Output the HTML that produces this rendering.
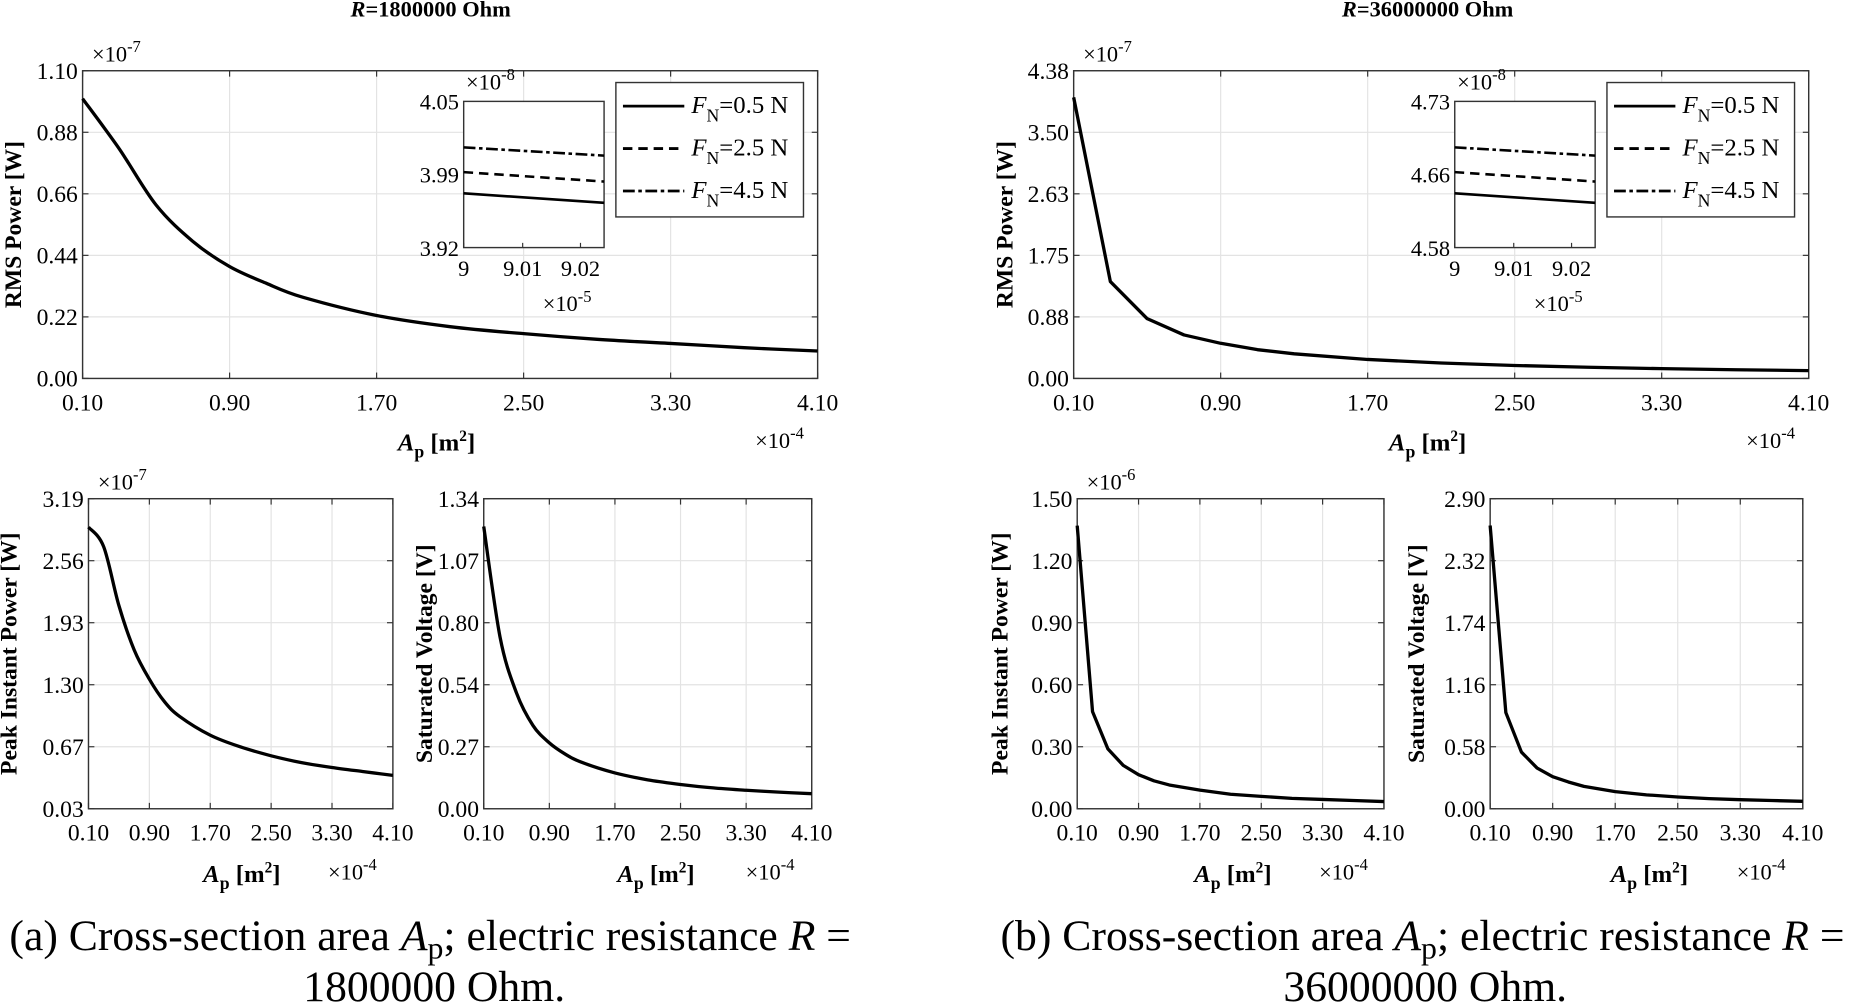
<!DOCTYPE html>
<html><head><meta charset="utf-8"><style>
html,body{margin:0;padding:0;background:#fff;width:1850px;height:1008px;overflow:hidden}
svg{display:block}
text{font-family:"Liberation Serif",serif;fill:#000}
</style></head><body>
<svg id="s" width="1850" height="1008" viewBox="0 0 1568 855" preserveAspectRatio="none" xmlns="http://www.w3.org/2000/svg"></svg>
<script>
const S=document.getElementById('s');let h='';
const X=[0.1,0.3,0.5,0.7,0.9,1.1,1.3,1.7,2.1,2.5,2.9,3.3,3.7,4.1];
function T(x,y,t,o){o=o||{};h+=`<text x="${x}" y="${y}" font-size="${o.fs||20}" text-anchor="${o.a||'middle'}" ${o.b?'font-weight="bold"':''} ${o.tr?`transform="${o.tr}"`:''}>${t}</text>`;}
function smooth(pts){let d='M'+pts[0][0].toFixed(1)+','+pts[0][1].toFixed(1);
  for(let i=0;i<pts.length-1;i++){const p0=pts[i-1]||pts[i],p1=pts[i],p2=pts[i+1],p3=pts[i+2]||p2;
    const c1=[p1[0]+(p2[0]-p0[0])/6,p1[1]+(p2[1]-p0[1])/6],c2=[p2[0]-(p3[0]-p1[0])/6,p2[1]-(p3[1]-p1[1])/6];
    d+=`C${c1[0].toFixed(1)},${c1[1].toFixed(1)} ${c2[0].toFixed(1)},${c2[1].toFixed(1)} ${p2[0].toFixed(1)},${p2[1].toFixed(1)}`;}
  return d;}
function linear(pts){return pts.map((p,i)=>(i?'L':'M')+p[0].toFixed(1)+','+p[1].toFixed(1)).join('');}
function axes(L,R,Tp,B,ylabs,ymin,ymax,ys,ylab,ylx,exp,xlabY,xlabX,expX,lin){
  const n=ylabs.length;
  for(let i=0;i<6;i++){const x=L+(R-L)*i/5;h+=`<line x1="${x}" y1="${Tp}" x2="${x}" y2="${B}" stroke="#e3e3e3" stroke-width="1"/>`;}
  for(let i=0;i<n;i++){const y=B-(B-Tp)*i/(n-1);h+=`<line x1="${L}" y1="${y}" x2="${R}" y2="${y}" stroke="#e3e3e3" stroke-width="1"/>`;}
  for(let i=0;i<6;i++){const x=L+(R-L)*i/5;h+=`<line x1="${x}" y1="${B}" x2="${x}" y2="${B-5}" stroke="#333"/><line x1="${x}" y1="${Tp}" x2="${x}" y2="${Tp+5}" stroke="#333"/>`;
    T(x,B+27,['0.10','0.90','1.70','2.50','3.30','4.10'][i]);}
  for(let i=0;i<n;i++){const y=B-(B-Tp)*i/(n-1);h+=`<line x1="${L}" y1="${y}" x2="${L+5}" y2="${y}" stroke="#333"/><line x1="${R}" y1="${y}" x2="${R-5}" y2="${y}" stroke="#333"/>`;
    T(L-4,y+7,ylabs[i],{a:'end'});}
  h+=`<rect x="${L}" y="${Tp}" width="${R-L}" height="${B-Tp}" fill="none" stroke="#333" stroke-width="1.2"/>`;
  const pts=X.map((x,i)=>[L+(R-L)*(x-0.1)/4,B-(B-Tp)*(ys[i]-ymin)/(ymax-ymin)]);
  h+=`<path d="${lin?linear(pts):smooth(pts)}" fill="none" stroke="#000" stroke-width="2.8" stroke-linejoin="round"/>`;
  if(exp)T(L+8,Tp-8,'×10<tspan dy="-8" font-size="14">'+exp+'</tspan>',{a:'start',fs:19});
  T(ylx,(Tp+B)/2,ylab,{b:1,fs:20,tr:`rotate(-90 ${ylx} ${(Tp+B)/2})`});
  T(xlabX,xlabY,'<tspan font-style="italic">A</tspan><tspan dy="6" font-size="15">p</tspan><tspan dy="-6"> [m</tspan><tspan dy="-8" font-size="13">2</tspan><tspan dy="8">]</tspan>',{b:1,fs:21});
  T(expX,xlabY-2,'×10<tspan dy="-8" font-size="14">-4</tspan>',{a:'start',fs:19});
}
function inset(L,R,Tp,B,labs){
  h+=`<rect x="${L}" y="${Tp}" width="${R-L}" height="${B-Tp}" fill="#fff" stroke="#333" stroke-width="1.2"/>`;
  [L,L+50,L+99].forEach((x,i)=>{h+=`<line x1="${x}" y1="${B}" x2="${x}" y2="${B-4}" stroke="#333"/>`;T(x,B+24,['9','9.01','9.02'][i],{fs:19});});
  labs.forEach((t,i)=>{const y=Tp+(B-Tp)*i/2;T(L-4,y+7,t,{a:'end',fs:19});});
  h+=`<line x1="${L}" y1="${Tp+39}" x2="${R}" y2="${Tp+46}" stroke="#000" stroke-width="2.2" stroke-dasharray="10,3,3,3"/>`;
  h+=`<line x1="${L}" y1="${Tp+60}" x2="${R}" y2="${Tp+68}" stroke="#000" stroke-width="2.2" stroke-dasharray="8,5"/>`;
  h+=`<line x1="${L}" y1="${Tp+78}" x2="${R}" y2="${Tp+86}" stroke="#000" stroke-width="2.2"/>`;
  T(L+2,Tp-10,'×10<tspan dy="-8" font-size="14">-8</tspan>',{a:'start',fs:19});
  T(R-52,B+54,'×10<tspan dy="-8" font-size="14">-5</tspan>',{a:'start',fs:19});
}
function legend(L,Tp){
  h+=`<rect x="${L}" y="${Tp}" width="159" height="114" fill="#fff" stroke="#333" stroke-width="1.2"/>`;
  const ds=['','8,5','10,3,3,3'],ft=['0.5','2.5','4.5'];
  for(let i=0;i<3;i++){const y=Tp+20+i*36;h+=`<line x1="${L+6}" y1="${y}" x2="${L+58}" y2="${y}" stroke="#000" stroke-width="2.4" ${ds[i]?`stroke-dasharray="${ds[i]}"`:''}/>`;
    T(L+64,y+6,'<tspan font-style="italic">F</tspan><tspan dy="7" font-size="15">N</tspan><tspan dy="-7">='+ft[i]+' N</tspan>',{a:'start',fs:21});}
}
T(365,14,'<tspan font-style="italic">R</tspan>=1800000 Ohm',{b:1,fs:19});
T(1210,14,'<tspan font-style="italic">R</tspan>=36000000 Ohm',{b:1,fs:19});
axes(70,693,60,321,['0.00','0.22','0.44','0.66','0.88','1.10'],0,1.1,[1.0,0.82,0.62,0.49,0.40,0.34,0.29,0.225,0.185,0.16,0.14,0.125,0.11,0.098],'RMS Power [W]',18,'-7',382,370,640);
inset(393,512,86,210,['4.05','3.99','3.92']);legend(522,70);
axes(910,1533,60,321,['0.00','0.88','1.75','2.63','3.50','4.38'],0,4.38,[4.0,1.38,0.85,0.62,0.5,0.41,0.35,0.27,0.22,0.185,0.16,0.14,0.125,0.11],'RMS Power [W]',858,'-7',382,1210,1480,1);
inset(1233,1352,86,210,['4.73','4.66','4.58']);legend(1362,70);
axes(75,333,423,686,['0.03','0.67','1.30','1.93','2.56','3.19'],0.03,3.19,[2.9,2.7,2.1,1.65,1.35,1.12,0.97,0.78,0.66,0.57,0.5,0.45,0.41,0.37],'Peak Instant Power [W]',14,'-7',748,205,278);
axes(410,688,423,686,['0.00','0.27','0.54','0.80','1.07','1.34'],0,1.34,[1.22,0.74,0.5,0.36,0.285,0.235,0.2,0.155,0.125,0.105,0.09,0.08,0.072,0.065],'Saturated Voltage [V]',366,'',748,556,632);
axes(913,1173,423,686,['0.00','0.30','0.60','0.90','1.20','1.50'],0,1.5,[1.37,0.47,0.29,0.21,0.165,0.135,0.115,0.09,0.07,0.06,0.05,0.045,0.04,0.035],'Peak Instant Power [W]',854,'-6',748,1045,1118,1);
axes(1263,1528,423,686,['0.00','0.58','1.16','1.74','2.32','2.90'],0,2.9,[2.65,0.9,0.53,0.38,0.3,0.25,0.21,0.16,0.13,0.11,0.095,0.085,0.077,0.07],'Saturated Voltage [V]',1207,'',748,1398,1472,1);
const cap=l=>`${l} Cross-section area <tspan font-style="italic">A</tspan><tspan dy="7" font-size="27">p</tspan><tspan dy="-7">; electric resistance </tspan><tspan font-style="italic">R</tspan> =`;
T(8,806,cap('(a)'),{a:'start',fs:37});
T(368,849,'1800000 Ohm.',{fs:37});
T(848,806,cap('(b)'),{a:'start',fs:37});
T(1208,849,'36000000 Ohm.',{fs:37});
S.innerHTML=h;
</script>
</body></html>
